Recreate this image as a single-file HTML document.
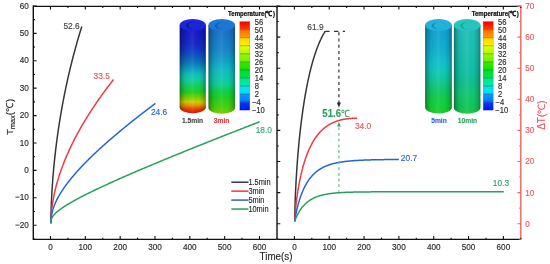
<!DOCTYPE html>
<html><head><meta charset="utf-8"><title>Tmax and Delta T vs Time</title>
<style>html,body{margin:0;padding:0;background:#fff;overflow:hidden;} svg{display:block;filter:blur(0.3px);}</style>
</head><body>
<svg width="550" height="264" viewBox="0 0 550 264" font-family="'Liberation Sans', Arial, sans-serif">
<rect width="550" height="264" fill="#fff"/>
<defs>
<linearGradient id="shade" x1="0" x2="1" y1="0" y2="0">
 <stop offset="0" stop-color="#000" stop-opacity="0.45"/>
 <stop offset="0.08" stop-color="#000" stop-opacity="0.22"/>
 <stop offset="0.22" stop-color="#000" stop-opacity="0.05"/>
 <stop offset="0.5" stop-color="#fff" stop-opacity="0.07"/>
 <stop offset="0.72" stop-color="#000" stop-opacity="0.0"/>
 <stop offset="0.9" stop-color="#000" stop-opacity="0.15"/>
 <stop offset="1" stop-color="#000" stop-opacity="0.35"/>
</linearGradient>
<linearGradient id="capsh" x1="0" x2="1" y1="0" y2="1">
 <stop offset="0" stop-color="#fff" stop-opacity="0.10"/>
 <stop offset="1" stop-color="#000" stop-opacity="0.05"/>
</linearGradient>

<linearGradient id="c1" gradientUnits="userSpaceOnUse" x1="0" x2="0" y1="19" y2="113"><stop offset="0.000" stop-color="#1a22d0"/><stop offset="0.128" stop-color="#1418c8"/><stop offset="0.266" stop-color="#1426c8"/><stop offset="0.340" stop-color="#103cc8"/><stop offset="0.404" stop-color="#0c58c2"/><stop offset="0.468" stop-color="#0a78bc"/><stop offset="0.521" stop-color="#0898c0"/><stop offset="0.585" stop-color="#10bec0"/><stop offset="0.649" stop-color="#10d0a0"/><stop offset="0.713" stop-color="#10d060"/><stop offset="0.777" stop-color="#20d020"/><stop offset="0.840" stop-color="#80d000"/><stop offset="0.883" stop-color="#d0d000"/><stop offset="0.920" stop-color="#e89000"/><stop offset="0.957" stop-color="#e84000"/><stop offset="1.000" stop-color="#d01010"/></linearGradient>
<linearGradient id="c2" gradientUnits="userSpaceOnUse" x1="0" x2="0" y1="19" y2="113"><stop offset="0.000" stop-color="#1a70d0"/><stop offset="0.128" stop-color="#1872c8"/><stop offset="0.330" stop-color="#1886cc"/><stop offset="0.436" stop-color="#10a0c8"/><stop offset="0.543" stop-color="#10bcc4"/><stop offset="0.628" stop-color="#10c8b0"/><stop offset="0.702" stop-color="#10d090"/><stop offset="0.766" stop-color="#10d048"/><stop offset="0.840" stop-color="#20d020"/><stop offset="0.915" stop-color="#40d010"/><stop offset="1.000" stop-color="#70d000"/></linearGradient>
<linearGradient id="c3" gradientUnits="userSpaceOnUse" x1="0" x2="0" y1="19" y2="113"><stop offset="0.000" stop-color="#20a8d8"/><stop offset="0.128" stop-color="#12a2d0"/><stop offset="0.330" stop-color="#10b0d0"/><stop offset="0.457" stop-color="#10c0d0"/><stop offset="0.564" stop-color="#10c8b8"/><stop offset="0.670" stop-color="#10c890"/><stop offset="0.777" stop-color="#10c860"/><stop offset="0.883" stop-color="#10d040"/><stop offset="1.000" stop-color="#18d028"/></linearGradient>
<linearGradient id="c4" gradientUnits="userSpaceOnUse" x1="0" x2="0" y1="19" y2="113"><stop offset="0.000" stop-color="#20c0b8"/><stop offset="0.128" stop-color="#20c0b8"/><stop offset="0.383" stop-color="#18c0b0"/><stop offset="0.543" stop-color="#10c0a8"/><stop offset="0.670" stop-color="#10c090"/><stop offset="0.809" stop-color="#10c870"/><stop offset="0.915" stop-color="#10c858"/><stop offset="1.000" stop-color="#18c848"/></linearGradient>
</defs>
<path d="M179.7,24.9 L179.7,107.3 A13.050000000000011,6.0 0 0 0 205.8,107.3 L205.8,24.9 Z" fill="url(#c1)"/>
<path d="M179.7,24.9 L179.7,107.3 A13.050000000000011,6.0 0 0 0 205.8,107.3 L205.8,24.9 Z" fill="url(#shade)"/>
<ellipse cx="192.75" cy="24.9" rx="13.050000000000011" ry="6.0" fill="#1c26d4"/>
<ellipse cx="193.35" cy="25.80" rx="7.31" ry="3.48" fill="none" stroke="#06067a" stroke-width="0.45" stroke-opacity="0.18"/>
<path d="M193.35,22.32 A7.31,3.48 0 0 0 193.35,29.28 A4.02,2.78 0 0 1 193.35,22.32 Z" fill="#06067a" fill-opacity="0.45"/>
<path d="M208.5,24.9 L208.5,107.7 A13.25,6.0 0 0 0 235.0,107.7 L235.0,24.9 Z" fill="url(#c2)"/>
<path d="M208.5,24.9 L208.5,107.7 A13.25,6.0 0 0 0 235.0,107.7 L235.0,24.9 Z" fill="url(#shade)"/>
<ellipse cx="221.75" cy="24.9" rx="13.25" ry="6.0" fill="#1c78d4"/>
<ellipse cx="222.35" cy="25.80" rx="7.42" ry="3.48" fill="none" stroke="#0a3c80" stroke-width="0.45" stroke-opacity="0.18"/>
<path d="M222.35,22.32 A7.42,3.48 0 0 0 222.35,29.28 A4.08,2.78 0 0 1 222.35,22.32 Z" fill="#0a3c80" fill-opacity="0.45"/>
<path d="M425.2,24.9 L425.2,107.4 A13.300000000000011,6.0 0 0 0 451.8,107.4 L451.8,24.9 Z" fill="url(#c3)"/>
<path d="M425.2,24.9 L425.2,107.4 A13.300000000000011,6.0 0 0 0 451.8,107.4 L451.8,24.9 Z" fill="url(#shade)"/>
<ellipse cx="438.5" cy="24.9" rx="13.300000000000011" ry="6.0" fill="#22b2da"/>
<ellipse cx="439.10" cy="25.80" rx="7.45" ry="3.48" fill="none" stroke="#0a6a88" stroke-width="0.45" stroke-opacity="0.18"/>
<path d="M439.10,22.32 A7.45,3.48 0 0 0 439.10,29.28 A4.10,2.78 0 0 1 439.10,22.32 Z" fill="#0a6a88" fill-opacity="0.45"/>
<path d="M453.9,24.9 L453.9,107.8 A13.25,6.0 0 0 0 480.4,107.8 L480.4,24.9 Z" fill="url(#c4)"/>
<path d="M453.9,24.9 L453.9,107.8 A13.25,6.0 0 0 0 480.4,107.8 L480.4,24.9 Z" fill="url(#shade)"/>
<ellipse cx="467.15" cy="24.9" rx="13.25" ry="6.0" fill="#26c6c0"/>
<ellipse cx="467.75" cy="25.80" rx="7.42" ry="3.48" fill="none" stroke="#0a7a78" stroke-width="0.45" stroke-opacity="0.18"/>
<path d="M467.75,22.32 A7.42,3.48 0 0 0 467.75,29.28 A4.08,2.78 0 0 1 467.75,22.32 Z" fill="#0a7a78" fill-opacity="0.45"/>
<defs><linearGradient id="cbl0" x1="0" x2="0" y1="0" y2="1"><stop offset="0" stop-color="#f00000"/><stop offset="1" stop-color="#ff4000"/></linearGradient><linearGradient id="cbl1" x1="0" x2="0" y1="0" y2="1"><stop offset="0" stop-color="#ff6a00"/><stop offset="1" stop-color="#ffa000"/></linearGradient><linearGradient id="cbl2" x1="0" x2="0" y1="0" y2="1"><stop offset="0" stop-color="#ffd000"/><stop offset="1" stop-color="#fff400"/></linearGradient><linearGradient id="cbl3" x1="0" x2="0" y1="0" y2="1"><stop offset="0" stop-color="#e4ff00"/><stop offset="1" stop-color="#b0f800"/></linearGradient><linearGradient id="cbl4" x1="0" x2="0" y1="0" y2="1"><stop offset="0" stop-color="#98f800"/><stop offset="1" stop-color="#70f000"/></linearGradient><linearGradient id="cbl5" x1="0" x2="0" y1="0" y2="1"><stop offset="0" stop-color="#40e800"/><stop offset="1" stop-color="#10e000"/></linearGradient><linearGradient id="cbl6" x1="0" x2="0" y1="0" y2="1"><stop offset="0" stop-color="#00e020"/><stop offset="1" stop-color="#00e050"/></linearGradient><linearGradient id="cbl7" x1="0" x2="0" y1="0" y2="1"><stop offset="0" stop-color="#00e880"/><stop offset="1" stop-color="#00e8b0"/></linearGradient><linearGradient id="cbl8" x1="0" x2="0" y1="0" y2="1"><stop offset="0" stop-color="#00e8e0"/><stop offset="1" stop-color="#00d8ff"/></linearGradient><linearGradient id="cbl9" x1="0" x2="0" y1="0" y2="1"><stop offset="0" stop-color="#00a0ff"/><stop offset="1" stop-color="#0070ff"/></linearGradient><linearGradient id="cbl10" x1="0" x2="0" y1="0" y2="1"><stop offset="0" stop-color="#0040ff"/><stop offset="1" stop-color="#0010f0"/></linearGradient></defs>
<rect x="239.8" y="21.60" width="10.0" height="8.05" fill="url(#cbl0)"/>
<rect x="239.8" y="29.65" width="10.0" height="8.05" fill="url(#cbl1)"/>
<rect x="239.8" y="37.70" width="10.0" height="8.05" fill="url(#cbl2)"/>
<rect x="239.8" y="45.75" width="10.0" height="8.05" fill="url(#cbl3)"/>
<rect x="239.8" y="53.80" width="10.0" height="8.05" fill="url(#cbl4)"/>
<rect x="239.8" y="61.85" width="10.0" height="8.05" fill="url(#cbl5)"/>
<rect x="239.8" y="69.90" width="10.0" height="8.05" fill="url(#cbl6)"/>
<rect x="239.8" y="77.95" width="10.0" height="8.05" fill="url(#cbl7)"/>
<rect x="239.8" y="86.00" width="10.0" height="8.05" fill="url(#cbl8)"/>
<rect x="239.8" y="94.05" width="10.0" height="8.05" fill="url(#cbl9)"/>
<rect x="239.8" y="102.10" width="10.0" height="8.05" fill="url(#cbl10)"/>
<line x1="239.8" x2="249.8" y1="29.65" y2="29.65" stroke="#303830" stroke-opacity="0.6" stroke-width="0.7"/>
<line x1="239.8" x2="249.8" y1="37.70" y2="37.70" stroke="#303830" stroke-opacity="0.6" stroke-width="0.7"/>
<line x1="239.8" x2="249.8" y1="45.75" y2="45.75" stroke="#303830" stroke-opacity="0.6" stroke-width="0.7"/>
<line x1="239.8" x2="249.8" y1="53.80" y2="53.80" stroke="#303830" stroke-opacity="0.6" stroke-width="0.7"/>
<line x1="239.8" x2="249.8" y1="61.85" y2="61.85" stroke="#303830" stroke-opacity="0.6" stroke-width="0.7"/>
<line x1="239.8" x2="249.8" y1="69.90" y2="69.90" stroke="#303830" stroke-opacity="0.6" stroke-width="0.7"/>
<line x1="239.8" x2="249.8" y1="77.95" y2="77.95" stroke="#303830" stroke-opacity="0.6" stroke-width="0.7"/>
<line x1="239.8" x2="249.8" y1="86.00" y2="86.00" stroke="#303830" stroke-opacity="0.6" stroke-width="0.7"/>
<line x1="239.8" x2="249.8" y1="94.05" y2="94.05" stroke="#303830" stroke-opacity="0.6" stroke-width="0.7"/>
<line x1="239.8" x2="249.8" y1="102.10" y2="102.10" stroke="#303830" stroke-opacity="0.6" stroke-width="0.7"/>
<rect x="239.8" y="21.6" width="10.0" height="88.55" fill="none" stroke="#405080" stroke-opacity="0.5" stroke-width="0.5"/>
<text transform="translate(254.70,24.80) scale(1,1.1)" font-size="7.6" fill="#2a2a2a" stroke="#2a2a2a" stroke-width="0.14">56</text>
<text transform="translate(254.70,32.85) scale(1,1.1)" font-size="7.6" fill="#2a2a2a" stroke="#2a2a2a" stroke-width="0.14">50</text>
<text transform="translate(254.70,40.90) scale(1,1.1)" font-size="7.6" fill="#2a2a2a" stroke="#2a2a2a" stroke-width="0.14">44</text>
<text transform="translate(254.70,48.95) scale(1,1.1)" font-size="7.6" fill="#2a2a2a" stroke="#2a2a2a" stroke-width="0.14">38</text>
<text transform="translate(254.70,57.00) scale(1,1.1)" font-size="7.6" fill="#2a2a2a" stroke="#2a2a2a" stroke-width="0.14">32</text>
<text transform="translate(254.70,65.05) scale(1,1.1)" font-size="7.6" fill="#2a2a2a" stroke="#2a2a2a" stroke-width="0.14">26</text>
<text transform="translate(254.70,73.10) scale(1,1.1)" font-size="7.6" fill="#2a2a2a" stroke="#2a2a2a" stroke-width="0.14">20</text>
<text transform="translate(254.70,81.15) scale(1,1.1)" font-size="7.6" fill="#2a2a2a" stroke="#2a2a2a" stroke-width="0.14">14</text>
<text transform="translate(254.70,89.20) scale(1,1.1)" font-size="7.6" fill="#2a2a2a" stroke="#2a2a2a" stroke-width="0.14">8</text>
<text transform="translate(254.70,97.25) scale(1,1.1)" font-size="7.6" fill="#2a2a2a" stroke="#2a2a2a" stroke-width="0.14">2</text>
<text transform="translate(260.80,105.30) scale(1,1.1)" font-size="7.6" fill="#2a2a2a" text-anchor="end" stroke="#2a2a2a" stroke-width="0.14">−4</text>
<text transform="translate(264.80,113.35) scale(1,1.1)" font-size="7.6" fill="#2a2a2a" text-anchor="end" stroke="#2a2a2a" stroke-width="0.14">−10</text>
<defs><linearGradient id="cbr0" x1="0" x2="0" y1="0" y2="1"><stop offset="0" stop-color="#f00000"/><stop offset="1" stop-color="#ff4000"/></linearGradient><linearGradient id="cbr1" x1="0" x2="0" y1="0" y2="1"><stop offset="0" stop-color="#ff6a00"/><stop offset="1" stop-color="#ffa000"/></linearGradient><linearGradient id="cbr2" x1="0" x2="0" y1="0" y2="1"><stop offset="0" stop-color="#ffd000"/><stop offset="1" stop-color="#fff400"/></linearGradient><linearGradient id="cbr3" x1="0" x2="0" y1="0" y2="1"><stop offset="0" stop-color="#e4ff00"/><stop offset="1" stop-color="#b0f800"/></linearGradient><linearGradient id="cbr4" x1="0" x2="0" y1="0" y2="1"><stop offset="0" stop-color="#98f800"/><stop offset="1" stop-color="#70f000"/></linearGradient><linearGradient id="cbr5" x1="0" x2="0" y1="0" y2="1"><stop offset="0" stop-color="#40e800"/><stop offset="1" stop-color="#10e000"/></linearGradient><linearGradient id="cbr6" x1="0" x2="0" y1="0" y2="1"><stop offset="0" stop-color="#00e020"/><stop offset="1" stop-color="#00e050"/></linearGradient><linearGradient id="cbr7" x1="0" x2="0" y1="0" y2="1"><stop offset="0" stop-color="#00e880"/><stop offset="1" stop-color="#00e8b0"/></linearGradient><linearGradient id="cbr8" x1="0" x2="0" y1="0" y2="1"><stop offset="0" stop-color="#00e8e0"/><stop offset="1" stop-color="#00d8ff"/></linearGradient><linearGradient id="cbr9" x1="0" x2="0" y1="0" y2="1"><stop offset="0" stop-color="#00a0ff"/><stop offset="1" stop-color="#0070ff"/></linearGradient><linearGradient id="cbr10" x1="0" x2="0" y1="0" y2="1"><stop offset="0" stop-color="#0040ff"/><stop offset="1" stop-color="#0010f0"/></linearGradient></defs>
<rect x="483.2" y="21.60" width="10.0" height="8.05" fill="url(#cbr0)"/>
<rect x="483.2" y="29.65" width="10.0" height="8.05" fill="url(#cbr1)"/>
<rect x="483.2" y="37.70" width="10.0" height="8.05" fill="url(#cbr2)"/>
<rect x="483.2" y="45.75" width="10.0" height="8.05" fill="url(#cbr3)"/>
<rect x="483.2" y="53.80" width="10.0" height="8.05" fill="url(#cbr4)"/>
<rect x="483.2" y="61.85" width="10.0" height="8.05" fill="url(#cbr5)"/>
<rect x="483.2" y="69.90" width="10.0" height="8.05" fill="url(#cbr6)"/>
<rect x="483.2" y="77.95" width="10.0" height="8.05" fill="url(#cbr7)"/>
<rect x="483.2" y="86.00" width="10.0" height="8.05" fill="url(#cbr8)"/>
<rect x="483.2" y="94.05" width="10.0" height="8.05" fill="url(#cbr9)"/>
<rect x="483.2" y="102.10" width="10.0" height="8.05" fill="url(#cbr10)"/>
<line x1="483.2" x2="493.2" y1="29.65" y2="29.65" stroke="#303830" stroke-opacity="0.6" stroke-width="0.7"/>
<line x1="483.2" x2="493.2" y1="37.70" y2="37.70" stroke="#303830" stroke-opacity="0.6" stroke-width="0.7"/>
<line x1="483.2" x2="493.2" y1="45.75" y2="45.75" stroke="#303830" stroke-opacity="0.6" stroke-width="0.7"/>
<line x1="483.2" x2="493.2" y1="53.80" y2="53.80" stroke="#303830" stroke-opacity="0.6" stroke-width="0.7"/>
<line x1="483.2" x2="493.2" y1="61.85" y2="61.85" stroke="#303830" stroke-opacity="0.6" stroke-width="0.7"/>
<line x1="483.2" x2="493.2" y1="69.90" y2="69.90" stroke="#303830" stroke-opacity="0.6" stroke-width="0.7"/>
<line x1="483.2" x2="493.2" y1="77.95" y2="77.95" stroke="#303830" stroke-opacity="0.6" stroke-width="0.7"/>
<line x1="483.2" x2="493.2" y1="86.00" y2="86.00" stroke="#303830" stroke-opacity="0.6" stroke-width="0.7"/>
<line x1="483.2" x2="493.2" y1="94.05" y2="94.05" stroke="#303830" stroke-opacity="0.6" stroke-width="0.7"/>
<line x1="483.2" x2="493.2" y1="102.10" y2="102.10" stroke="#303830" stroke-opacity="0.6" stroke-width="0.7"/>
<rect x="483.2" y="21.6" width="10.0" height="88.55" fill="none" stroke="#405080" stroke-opacity="0.5" stroke-width="0.5"/>
<text transform="translate(498.10,24.80) scale(1,1.1)" font-size="7.6" fill="#2a2a2a" stroke="#2a2a2a" stroke-width="0.14">56</text>
<text transform="translate(498.10,32.85) scale(1,1.1)" font-size="7.6" fill="#2a2a2a" stroke="#2a2a2a" stroke-width="0.14">50</text>
<text transform="translate(498.10,40.90) scale(1,1.1)" font-size="7.6" fill="#2a2a2a" stroke="#2a2a2a" stroke-width="0.14">44</text>
<text transform="translate(498.10,48.95) scale(1,1.1)" font-size="7.6" fill="#2a2a2a" stroke="#2a2a2a" stroke-width="0.14">38</text>
<text transform="translate(498.10,57.00) scale(1,1.1)" font-size="7.6" fill="#2a2a2a" stroke="#2a2a2a" stroke-width="0.14">32</text>
<text transform="translate(498.10,65.05) scale(1,1.1)" font-size="7.6" fill="#2a2a2a" stroke="#2a2a2a" stroke-width="0.14">26</text>
<text transform="translate(498.10,73.10) scale(1,1.1)" font-size="7.6" fill="#2a2a2a" stroke="#2a2a2a" stroke-width="0.14">20</text>
<text transform="translate(498.10,81.15) scale(1,1.1)" font-size="7.6" fill="#2a2a2a" stroke="#2a2a2a" stroke-width="0.14">14</text>
<text transform="translate(498.10,89.20) scale(1,1.1)" font-size="7.6" fill="#2a2a2a" stroke="#2a2a2a" stroke-width="0.14">8</text>
<text transform="translate(498.10,97.25) scale(1,1.1)" font-size="7.6" fill="#2a2a2a" stroke="#2a2a2a" stroke-width="0.14">2</text>
<text transform="translate(504.20,105.30) scale(1,1.1)" font-size="7.6" fill="#2a2a2a" text-anchor="end" stroke="#2a2a2a" stroke-width="0.14">−4</text>
<text transform="translate(508.20,113.35) scale(1,1.1)" font-size="7.6" fill="#2a2a2a" text-anchor="end" stroke="#2a2a2a" stroke-width="0.14">−10</text>
<text transform="translate(228.0,16.0) scale(0.925,1.06)" font-size="6.6" font-weight="bold" fill="#111" stroke="#111" stroke-width="0.22">Temperature(℃)</text>
<text transform="translate(471.7,16.0) scale(0.925,1.06)" font-size="6.6" font-weight="bold" fill="#111" stroke="#111" stroke-width="0.22">Temperature(℃)</text>
<text transform="translate(192.6,123.4) scale(1,1.1)" font-size="6.7" font-weight="bold" fill="#484848" text-anchor="middle" stroke="#484848" stroke-width="0.12">1.5min</text>
<text transform="translate(221.6,123.4) scale(1,1.1)" font-size="6.7" font-weight="bold" fill="#ee3440" text-anchor="middle" stroke="#ee3440" stroke-width="0.12">3min</text>
<text transform="translate(439.0,123.4) scale(1,1.1)" font-size="6.7" font-weight="bold" fill="#2a68e0" text-anchor="middle" stroke="#2a68e0" stroke-width="0.12">5min</text>
<text transform="translate(467.5,123.4) scale(1,1.1)" font-size="6.7" font-weight="bold" fill="#2ea060" text-anchor="middle" stroke="#2ea060" stroke-width="0.12">10min</text>
<polyline points="50.90,223.20 50.90,223.09 50.90,222.93 50.90,222.75 50.90,222.55 50.90,222.33 50.90,222.11 50.90,221.87 50.91,221.62 50.91,221.37 50.91,221.11 50.91,220.84 50.91,220.56 50.92,220.28 50.92,219.99 50.92,219.69 50.93,219.39 50.93,219.09 50.93,218.78 50.94,218.46 50.94,218.14 50.95,217.82 50.95,217.49 50.96,217.16 50.96,216.83 50.97,216.49 50.98,216.15 50.98,215.80 50.99,215.46 51.00,215.10 51.00,214.75 51.01,214.39 51.02,214.03 51.03,213.67 51.04,213.30 51.05,212.93 51.06,212.56 51.07,212.19 51.08,211.81 51.09,211.43 51.10,211.05 51.11,210.66 51.12,210.28 51.13,209.89 51.14,209.50 51.15,209.11 51.17,208.71 51.18,208.31 51.19,207.91 51.21,207.51 51.22,207.11 51.23,206.70 51.25,206.30 51.26,205.89 51.28,205.48 51.30,205.06 51.31,204.65 51.33,204.23 51.34,203.82 51.36,203.40 51.38,202.98 51.40,202.55 51.41,202.13 51.43,201.70 51.45,201.27 51.47,200.85 51.49,200.42 51.51,199.98 51.53,199.55 51.55,199.11 51.57,198.68 51.59,198.24 51.61,197.80 51.64,197.36 51.66,196.92 51.68,196.48 51.70,196.03 51.73,195.59 51.75,195.14 51.78,194.69 51.80,194.24 51.83,193.79 51.85,193.34 51.88,192.89 51.90,192.43 51.93,191.98 51.96,191.52 51.98,191.06 52.01,190.60 52.04,190.14 52.07,189.68 52.10,189.22 52.13,188.76 52.15,188.29 52.18,187.83 52.21,187.36 52.25,186.89 52.28,186.43 52.31,185.96 52.34,185.49 52.37,185.02 52.40,184.54 52.44,184.07 52.47,183.60 52.50,183.12 52.54,182.65 52.57,182.17 52.61,181.69 52.64,181.21 52.68,180.73 52.72,180.25 52.75,179.77 52.79,179.29 52.83,178.81 52.86,178.33 52.90,177.84 52.94,177.36 52.98,176.87 53.02,176.38 53.06,175.90 53.10,175.41 53.14,174.92 53.18,174.43 53.22,173.94 53.26,173.45 53.30,172.96 53.35,172.46 53.39,171.97 53.43,171.48 53.48,170.98 53.52,170.49 53.57,169.99 53.61,169.49 53.66,169.00 53.70,168.50 53.75,168.00 53.79,167.50 53.84,167.00 53.89,166.50 53.94,166.00 53.99,165.50 54.03,165.00 54.08,164.49 54.13,163.99 54.18,163.48 54.23,162.98 54.28,162.47 54.33,161.97 54.39,161.46 54.44,160.96 54.49,160.45 54.54,159.94 54.60,159.43 54.65,158.92 54.71,158.41 54.76,157.90 54.81,157.39 54.87,156.88 54.93,156.37 54.98,155.86 55.04,155.34 55.10,154.83 55.15,154.32 55.21,153.80 55.27,153.29 55.33,152.77 55.39,152.26 55.45,151.74 55.51,151.22 55.57,150.71 55.63,150.19 55.69,149.67 55.75,149.15 55.81,148.64 55.88,148.12 55.94,147.60 56.00,147.08 56.07,146.56 56.13,146.04 56.20,145.51 56.26,144.99 56.33,144.47 56.40,143.95 56.46,143.43 56.53,142.90 56.60,142.38 56.66,141.86 56.73,141.33 56.80,140.81 56.87,140.28 56.94,139.76 57.01,139.23 57.08,138.70 57.15,138.18 57.22,137.65 57.30,137.12 57.37,136.60 57.44,136.07 57.51,135.54 57.59,135.01 57.66,134.48 57.74,133.95 57.81,133.43 57.89,132.90 57.96,132.37 58.04,131.84 58.12,131.30 58.19,130.77 58.27,130.24 58.35,129.71 58.43,129.18 58.51,128.65 58.59,128.12 58.67,127.58 58.75,127.05 58.83,126.52 58.91,125.98 58.99,125.45 59.07,124.92 59.16,124.38 59.24,123.85 59.32,123.31 59.41,122.78 59.49,122.24 59.58,121.71 59.66,121.17 59.75,120.64 59.83,120.10 59.92,119.56 60.01,119.03 60.10,118.49 60.18,117.95 60.27,117.42 60.36,116.88 60.45,116.34 60.54,115.80 60.63,115.27 60.72,114.73 60.81,114.19 60.91,113.65 61.00,113.11 61.09,112.57 61.19,112.03 61.28,111.50 61.37,110.96 61.47,110.42 61.56,109.88 61.66,109.34 61.75,108.80 61.85,108.26 61.95,107.72 62.05,107.17 62.14,106.63 62.24,106.09 62.34,105.55 62.44,105.01 62.54,104.47 62.64,103.93 62.74,103.39 62.84,102.84 62.94,102.30 63.05,101.76 63.15,101.22 63.25,100.67 63.36,100.13 63.46,99.59 63.56,99.05 63.67,98.50 63.77,97.96 63.88,97.42 63.99,96.87 64.09,96.33 64.20,95.79 64.31,95.24 64.42,94.70 64.53,94.16 64.63,93.61 64.74,93.07 64.85,92.52 64.97,91.98 65.08,91.44 65.19,90.89 65.30,90.35 65.41,89.80 65.53,89.26 65.64,88.71 65.75,88.17 65.87,87.62 65.98,87.08 66.10,86.53 66.21,85.99 66.33,85.44 66.45,84.90 66.56,84.35 66.68,83.81 66.80,83.26 66.92,82.72 67.04,82.17 67.16,81.63 67.28,81.08 67.40,80.53 67.52,79.99 67.64,79.44 67.77,78.90 67.89,78.35 68.01,77.80 68.13,77.26 68.26,76.71 68.38,76.17 68.51,75.62 68.63,75.07 68.76,74.53 68.89,73.98 69.01,73.44 69.14,72.89 69.27,72.34 69.40,71.80 69.53,71.25 69.66,70.70 69.79,70.16 69.92,69.61 70.05,69.07 70.18,68.52 70.31,67.97 70.44,67.43 70.58,66.88 70.71,66.33 70.84,65.79 70.98,65.24 71.11,64.69 71.25,64.15 71.39,63.60 71.52,63.05 71.66,62.51 71.80,61.96 71.93,61.42 72.07,60.87 72.21,60.32 72.35,59.78 72.49,59.23 72.63,58.68 72.77,58.14 72.91,57.59 73.05,57.05 73.20,56.50 73.34,55.95 73.48,55.41 73.63,54.86 73.77,54.31 73.92,53.77 74.06,53.22 74.21,52.68 74.35,52.13 74.50,51.58 74.65,51.04 74.80,50.49 74.94,49.95 75.09,49.40 75.24,48.86 75.39,48.31 75.54,47.76 75.69,47.22 75.84,46.67 76.00,46.13 76.15,45.58 76.30,45.04 76.46,44.49 76.61,43.95 76.76,43.40 76.92,42.86 77.07,42.31 77.23,41.77 77.39,41.22 77.54,40.68 77.70,40.13 77.86,39.59 78.02,39.04 78.18,38.50 78.33,37.96 78.49,37.41 78.66,36.87 78.82,36.32 78.98,35.78 79.14,35.23 79.30,34.69 79.46,34.15 79.63,33.60 79.79,33.06 79.96,32.52 80.12,31.97 80.29,31.43 80.45,30.89 80.62,30.34 80.79,29.80 80.95,29.26 81.12,28.71 81.29,28.17 81.46,27.63 81.63,27.08 81.80,26.54" fill="none" stroke="#363636" stroke-width="1.5" stroke-linejoin="round" stroke-linecap="butt" />
<polyline points="50.90,223.20 50.90,223.08 50.90,222.92 50.90,222.75 50.90,222.57 50.90,222.38 50.91,222.19 50.91,221.99 50.91,221.79 50.91,221.58 50.92,221.37 50.92,221.15 50.93,220.93 50.93,220.71 50.94,220.48 50.95,220.25 50.95,220.02 50.96,219.79 50.97,219.55 50.98,219.31 50.99,219.07 51.00,218.83 51.01,218.58 51.02,218.33 51.03,218.09 51.04,217.84 51.05,217.58 51.07,217.33 51.08,217.07 51.10,216.82 51.11,216.56 51.13,216.30 51.14,216.03 51.16,215.77 51.18,215.51 51.20,215.24 51.22,214.97 51.24,214.70 51.26,214.43 51.28,214.16 51.30,213.89 51.32,213.62 51.34,213.34 51.37,213.06 51.39,212.79 51.42,212.51 51.44,212.23 51.47,211.95 51.49,211.67 51.52,211.38 51.55,211.10 51.58,210.81 51.61,210.53 51.64,210.24 51.67,209.95 51.70,209.66 51.73,209.37 51.77,209.08 51.80,208.79 51.84,208.50 51.87,208.21 51.91,207.91 51.94,207.62 51.98,207.32 52.02,207.02 52.06,206.72 52.10,206.43 52.14,206.13 52.18,205.83 52.22,205.52 52.26,205.22 52.31,204.92 52.35,204.61 52.39,204.31 52.44,204.01 52.49,203.70 52.53,203.39 52.58,203.08 52.63,202.78 52.68,202.47 52.73,202.16 52.78,201.85 52.83,201.53 52.88,201.22 52.93,200.91 52.99,200.60 53.04,200.28 53.10,199.97 53.15,199.65 53.21,199.34 53.27,199.02 53.33,198.70 53.39,198.38 53.45,198.06 53.51,197.74 53.57,197.42 53.63,197.10 53.69,196.78 53.76,196.46 53.82,196.14 53.89,195.81 53.95,195.49 54.02,195.16 54.09,194.84 54.16,194.51 54.22,194.19 54.29,193.86 54.37,193.53 54.44,193.20 54.51,192.87 54.58,192.54 54.66,192.21 54.73,191.88 54.81,191.55 54.88,191.22 54.96,190.89 55.04,190.55 55.12,190.22 55.20,189.89 55.28,189.55 55.36,189.22 55.44,188.88 55.53,188.54 55.61,188.21 55.69,187.87 55.78,187.53 55.87,187.19 55.95,186.85 56.04,186.51 56.13,186.17 56.22,185.83 56.31,185.49 56.40,185.15 56.49,184.81 56.59,184.46 56.68,184.12 56.77,183.78 56.87,183.43 56.97,183.09 57.06,182.74 57.16,182.40 57.26,182.05 57.36,181.70 57.46,181.36 57.56,181.01 57.66,180.66 57.77,180.31 57.87,179.96 57.97,179.61 58.08,179.26 58.19,178.91 58.29,178.56 58.40,178.21 58.51,177.85 58.62,177.50 58.73,177.15 58.84,176.79 58.96,176.44 59.07,176.09 59.18,175.73 59.30,175.37 59.41,175.02 59.53,174.66 59.65,174.30 59.77,173.95 59.89,173.59 60.01,173.23 60.13,172.87 60.25,172.51 60.37,172.15 60.50,171.79 60.62,171.43 60.75,171.07 60.87,170.71 61.00,170.35 61.13,169.98 61.26,169.62 61.39,169.26 61.52,168.89 61.65,168.53 61.78,168.17 61.92,167.80 62.05,167.44 62.19,167.07 62.32,166.70 62.46,166.34 62.60,165.97 62.74,165.60 62.87,165.23 63.02,164.87 63.16,164.50 63.30,164.13 63.44,163.76 63.59,163.39 63.73,163.02 63.88,162.65 64.02,162.27 64.17,161.90 64.32,161.53 64.47,161.16 64.62,160.78 64.77,160.41 64.92,160.04 65.08,159.66 65.23,159.29 65.39,158.91 65.54,158.54 65.70,158.16 65.86,157.78 66.02,157.41 66.18,157.03 66.34,156.65 66.50,156.28 66.66,155.90 66.82,155.52 66.99,155.14 67.15,154.76 67.32,154.38 67.49,154.00 67.65,153.62 67.82,153.24 67.99,152.86 68.16,152.48 68.33,152.09 68.51,151.71 68.68,151.33 68.85,150.94 69.03,150.56 69.21,150.18 69.38,149.79 69.56,149.41 69.74,149.02 69.92,148.64 70.10,148.25 70.28,147.86 70.46,147.48 70.65,147.09 70.83,146.70 71.02,146.31 71.20,145.93 71.39,145.54 71.58,145.15 71.77,144.76 71.96,144.37 72.15,143.98 72.34,143.59 72.54,143.20 72.73,142.81 72.93,142.42 73.12,142.02 73.32,141.63 73.52,141.24 73.71,140.85 73.91,140.45 74.11,140.06 74.32,139.66 74.52,139.27 74.72,138.87 74.93,138.48 75.13,138.08 75.34,137.69 75.55,137.29 75.75,136.90 75.96,136.50 76.17,136.10 76.38,135.70 76.60,135.31 76.81,134.91 77.02,134.51 77.24,134.11 77.45,133.71 77.67,133.31 77.89,132.91 78.11,132.51 78.33,132.11 78.55,131.71 78.77,131.31 78.99,130.90 79.22,130.50 79.44,130.10 79.67,129.70 79.89,129.29 80.12,128.89 80.35,128.49 80.58,128.08 80.81,127.68 81.04,127.27 81.27,126.87 81.50,126.46 81.74,126.05 81.97,125.65 82.21,125.24 82.45,124.83 82.69,124.43 82.93,124.02 83.17,123.61 83.41,123.20 83.65,122.80 83.89,122.39 84.14,121.98 84.38,121.57 84.63,121.16 84.87,120.75 85.12,120.34 85.37,119.93 85.62,119.51 85.87,119.10 86.12,118.69 86.38,118.28 86.63,117.87 86.89,117.45 87.14,117.04 87.40,116.63 87.66,116.21 87.91,115.80 88.17,115.38 88.44,114.97 88.70,114.55 88.96,114.14 89.22,113.72 89.49,113.31 89.75,112.89 90.02,112.47 90.29,112.05 90.56,111.64 90.83,111.22 91.10,110.80 91.37,110.38 91.64,109.96 91.92,109.54 92.19,109.13 92.47,108.71 92.74,108.29 93.02,107.87 93.30,107.44 93.58,107.02 93.86,106.60 94.14,106.18 94.43,105.76 94.71,105.34 94.99,104.91 95.28,104.49 95.57,104.07 95.85,103.64 96.14,103.22 96.43,102.80 96.72,102.37 97.02,101.95 97.31,101.52 97.60,101.10 97.90,100.67 98.19,100.25 98.49,99.82 98.79,99.39 99.09,98.97 99.39,98.54 99.69,98.11 99.99,97.68 100.29,97.25 100.60,96.83 100.90,96.40 101.21,95.97 101.52,95.54 101.82,95.11 102.13,94.68 102.44,94.25 102.75,93.82 103.07,93.39 103.38,92.96 103.69,92.52 104.01,92.09 104.33,91.66 104.64,91.23 104.96,90.80 105.28,90.36 105.60,89.93 105.92,89.50 106.24,89.06 106.57,88.63 106.89,88.19 107.22,87.76 107.55,87.32 107.87,86.89 108.20,86.45 108.53,86.02 108.86,85.58 109.19,85.14 109.53,84.71 109.86,84.27 110.19,83.83 110.53,83.39 110.87,82.95 111.21,82.52 111.54,82.08 111.88,81.64 112.23,81.20 112.57,80.76 112.91,80.32 113.25,79.88 113.60,79.44" fill="none" stroke="#ea3a44" stroke-width="1.5" stroke-linejoin="round" stroke-linecap="butt" />
<polyline points="50.90,223.20 50.90,222.99 50.90,222.79 50.90,222.58 50.90,222.38 50.91,222.18 50.91,221.98 50.91,221.78 50.92,221.58 50.92,221.38 50.93,221.18 50.94,220.98 50.95,220.78 50.96,220.58 50.97,220.38 50.98,220.17 50.99,219.97 51.00,219.77 51.01,219.57 51.03,219.37 51.04,219.17 51.06,218.97 51.08,218.76 51.10,218.56 51.12,218.36 51.14,218.16 51.16,217.95 51.18,217.75 51.20,217.55 51.23,217.34 51.25,217.14 51.28,216.93 51.31,216.73 51.33,216.52 51.36,216.32 51.39,216.11 51.43,215.90 51.46,215.70 51.49,215.49 51.53,215.28 51.56,215.08 51.60,214.87 51.64,214.66 51.68,214.45 51.72,214.24 51.76,214.03 51.80,213.82 51.85,213.61 51.89,213.40 51.94,213.19 51.98,212.97 52.03,212.76 52.08,212.55 52.13,212.34 52.18,212.12 52.24,211.91 52.29,211.69 52.35,211.48 52.40,211.26 52.46,211.05 52.52,210.83 52.58,210.61 52.64,210.40 52.70,210.18 52.76,209.96 52.83,209.74 52.90,209.52 52.96,209.30 53.03,209.08 53.10,208.86 53.17,208.64 53.24,208.42 53.32,208.20 53.39,207.98 53.47,207.75 53.54,207.53 53.62,207.31 53.70,207.08 53.78,206.86 53.86,206.63 53.95,206.41 54.03,206.18 54.12,205.95 54.20,205.73 54.29,205.50 54.38,205.27 54.47,205.04 54.56,204.81 54.66,204.58 54.75,204.35 54.85,204.12 54.94,203.89 55.04,203.66 55.14,203.43 55.24,203.19 55.35,202.96 55.45,202.73 55.55,202.49 55.66,202.26 55.77,202.02 55.88,201.79 55.99,201.55 56.10,201.31 56.21,201.08 56.33,200.84 56.44,200.60 56.56,200.36 56.68,200.12 56.80,199.88 56.92,199.64 57.04,199.40 57.16,199.16 57.29,198.91 57.41,198.67 57.54,198.43 57.67,198.18 57.80,197.94 57.93,197.69 58.06,197.45 58.20,197.20 58.33,196.95 58.47,196.71 58.61,196.46 58.75,196.21 58.89,195.96 59.03,195.71 59.18,195.46 59.32,195.21 59.47,194.96 59.62,194.71 59.76,194.46 59.92,194.20 60.07,193.95 60.22,193.69 60.38,193.44 60.53,193.18 60.69,192.93 60.85,192.67 61.01,192.42 61.17,192.16 61.33,191.90 61.50,191.64 61.66,191.38 61.83,191.12 62.00,190.86 62.17,190.60 62.34,190.34 62.52,190.08 62.69,189.81 62.87,189.55 63.04,189.29 63.22,189.02 63.40,188.76 63.59,188.49 63.77,188.22 63.95,187.96 64.14,187.69 64.33,187.42 64.52,187.15 64.71,186.88 64.90,186.61 65.09,186.34 65.28,186.07 65.48,185.80 65.68,185.53 65.88,185.26 66.08,184.98 66.28,184.71 66.48,184.43 66.69,184.16 66.89,183.88 67.10,183.61 67.31,183.33 67.52,183.05 67.73,182.77 67.95,182.49 68.16,182.21 68.38,181.93 68.60,181.65 68.82,181.37 69.04,181.09 69.26,180.81 69.48,180.52 69.71,180.24 69.94,179.96 70.16,179.67 70.39,179.39 70.63,179.10 70.86,178.81 71.09,178.52 71.33,178.24 71.57,177.95 71.80,177.66 72.04,177.37 72.29,177.08 72.53,176.79 72.77,176.49 73.02,176.20 73.27,175.91 73.52,175.61 73.77,175.32 74.02,175.03 74.27,174.73 74.53,174.43 74.79,174.14 75.05,173.84 75.31,173.54 75.57,173.24 75.83,172.94 76.09,172.64 76.36,172.34 76.63,172.04 76.90,171.74 77.17,171.44 77.44,171.13 77.71,170.83 77.99,170.52 78.26,170.22 78.54,169.91 78.82,169.61 79.10,169.30 79.39,168.99 79.67,168.68 79.96,168.37 80.24,168.06 80.53,167.75 80.82,167.44 81.12,167.13 81.41,166.82 81.70,166.51 82.00,166.19 82.30,165.88 82.60,165.56 82.90,165.25 83.20,164.93 83.51,164.61 83.81,164.30 84.12,163.98 84.43,163.66 84.74,163.34 85.05,163.02 85.37,162.70 85.68,162.38 86.00,162.06 86.32,161.73 86.64,161.41 86.96,161.09 87.28,160.76 87.61,160.44 87.94,160.11 88.26,159.78 88.59,159.46 88.92,159.13 89.26,158.80 89.59,158.47 89.93,158.14 90.26,157.81 90.60,157.48 90.94,157.15 91.29,156.81 91.63,156.48 91.98,156.15 92.32,155.81 92.67,155.47 93.02,155.14 93.37,154.80 93.73,154.46 94.08,154.13 94.44,153.79 94.80,153.45 95.16,153.11 95.52,152.77 95.88,152.43 96.25,152.08 96.61,151.74 96.98,151.40 97.35,151.05 97.72,150.71 98.09,150.36 98.47,150.02 98.84,149.67 99.22,149.32 99.60,148.97 99.98,148.63 100.36,148.28 100.75,147.93 101.13,147.58 101.52,147.22 101.91,146.87 102.30,146.52 102.69,146.16 103.08,145.81 103.48,145.46 103.88,145.10 104.28,144.74 104.68,144.39 105.08,144.03 105.48,143.67 105.89,143.31 106.29,142.95 106.70,142.59 107.11,142.23 107.52,141.87 107.94,141.50 108.35,141.14 108.77,140.78 109.19,140.41 109.61,140.05 110.03,139.68 110.45,139.31 110.88,138.95 111.30,138.58 111.73,138.21 112.16,137.84 112.59,137.47 113.02,137.10 113.46,136.73 113.90,136.36 114.33,135.98 114.77,135.61 115.21,135.23 115.66,134.86 116.10,134.48 116.55,134.11 117.00,133.73 117.45,133.35 117.90,132.97 118.35,132.59 118.80,132.21 119.26,131.83 119.72,131.45 120.18,131.07 120.64,130.69 121.10,130.30 121.57,129.92 122.03,129.53 122.50,129.15 122.97,128.76 123.44,128.37 123.92,127.99 124.39,127.60 124.87,127.21 125.34,126.82 125.82,126.43 126.31,126.04 126.79,125.65 127.27,125.25 127.76,124.86 128.25,124.47 128.74,124.07 129.23,123.67 129.72,123.28 130.22,122.88 130.71,122.48 131.21,122.09 131.71,121.69 132.21,121.29 132.72,120.89 133.22,120.48 133.73,120.08 134.24,119.68 134.75,119.28 135.26,118.87 135.77,118.47 136.29,118.06 136.81,117.65 137.32,117.25 137.84,116.84 138.37,116.43 138.89,116.02 139.42,115.61 139.94,115.20 140.47,114.79 141.00,114.38 141.53,113.97 142.07,113.55 142.60,113.14 143.14,112.72 143.68,112.31 144.22,111.89 144.76,111.47 145.31,111.06 145.85,110.64 146.40,110.22 146.95,109.80 147.50,109.38 148.06,108.95 148.61,108.53 149.17,108.11 149.72,107.69 150.28,107.26 150.85,106.84 151.41,106.41 151.97,105.98 152.54,105.56 153.11,105.13 153.68,104.70 154.25,104.27 154.82,103.84 155.40,103.41" fill="none" stroke="#2564d8" stroke-width="1.5" stroke-linejoin="round" stroke-linecap="butt" />
<polyline points="50.90,223.20 50.90,222.87 50.90,222.65 50.90,222.45 50.91,222.26 50.91,222.08 50.92,221.91 50.93,221.75 50.94,221.59 50.95,221.44 50.96,221.29 50.98,221.14 50.99,221.00 51.01,220.85 51.03,220.71 51.05,220.57 51.08,220.44 51.10,220.30 51.13,220.16 51.16,220.03 51.19,219.90 51.22,219.76 51.26,219.63 51.29,219.50 51.33,219.37 51.37,219.24 51.41,219.11 51.46,218.98 51.50,218.85 51.55,218.72 51.60,218.59 51.66,218.46 51.71,218.33 51.77,218.21 51.83,218.08 51.89,217.95 51.95,217.82 52.02,217.69 52.08,217.57 52.15,217.44 52.22,217.31 52.30,217.18 52.37,217.05 52.45,216.92 52.53,216.79 52.62,216.67 52.70,216.54 52.79,216.41 52.88,216.28 52.97,216.15 53.06,216.02 53.16,215.88 53.26,215.75 53.36,215.62 53.46,215.49 53.57,215.36 53.68,215.23 53.79,215.09 53.90,214.96 54.01,214.83 54.13,214.69 54.25,214.56 54.37,214.42 54.50,214.29 54.62,214.15 54.75,214.02 54.88,213.88 55.02,213.74 55.16,213.60 55.29,213.47 55.44,213.33 55.58,213.19 55.73,213.05 55.87,212.91 56.02,212.77 56.18,212.63 56.33,212.49 56.49,212.34 56.65,212.20 56.82,212.06 56.98,211.91 57.15,211.77 57.32,211.62 57.50,211.48 57.67,211.33 57.85,211.18 58.03,211.04 58.22,210.89 58.40,210.74 58.59,210.59 58.78,210.44 58.98,210.29 59.17,210.14 59.37,209.98 59.57,209.83 59.78,209.68 59.99,209.52 60.20,209.37 60.41,209.22 60.62,209.06 60.84,208.90 61.06,208.75 61.28,208.59 61.51,208.43 61.74,208.27 61.97,208.11 62.20,207.95 62.44,207.79 62.67,207.62 62.91,207.46 63.16,207.30 63.41,207.13 63.65,206.97 63.91,206.80 64.16,206.64 64.42,206.47 64.68,206.30 64.94,206.13 65.21,205.96 65.47,205.79 65.75,205.62 66.02,205.45 66.29,205.28 66.57,205.10 66.86,204.93 67.14,204.76 67.43,204.58 67.72,204.40 68.01,204.23 68.31,204.05 68.60,203.87 68.90,203.69 69.21,203.51 69.51,203.33 69.82,203.15 70.14,202.96 70.45,202.78 70.77,202.60 71.09,202.41 71.41,202.23 71.74,202.04 72.07,201.85 72.40,201.66 72.73,201.48 73.07,201.29 73.41,201.09 73.75,200.90 74.10,200.71 74.45,200.52 74.80,200.32 75.15,200.13 75.51,199.93 75.87,199.74 76.23,199.54 76.60,199.34 76.97,199.14 77.34,198.94 77.71,198.74 78.09,198.54 78.47,198.34 78.85,198.13 79.24,197.93 79.63,197.73 80.02,197.52 80.41,197.31 80.81,197.11 81.21,196.90 81.62,196.69 82.02,196.48 82.43,196.27 82.84,196.06 83.26,195.84 83.68,195.63 84.10,195.41 84.52,195.20 84.95,194.98 85.38,194.77 85.81,194.55 86.24,194.33 86.68,194.11 87.12,193.89 87.57,193.67 88.01,193.45 88.46,193.22 88.92,193.00 89.37,192.77 89.83,192.55 90.29,192.32 90.76,192.09 91.23,191.86 91.70,191.63 92.17,191.40 92.65,191.17 93.13,190.94 93.61,190.71 94.10,190.47 94.59,190.24 95.08,190.00 95.57,189.76 96.07,189.53 96.57,189.29 97.08,189.05 97.58,188.81 98.09,188.56 98.61,188.32 99.12,188.08 99.64,187.83 100.16,187.59 100.69,187.34 101.22,187.10 101.75,186.85 102.28,186.60 102.82,186.35 103.36,186.10 103.90,185.85 104.45,185.59 105.00,185.34 105.55,185.08 106.11,184.83 106.66,184.57 107.23,184.31 107.79,184.06 108.36,183.80 108.93,183.54 109.50,183.27 110.08,183.01 110.66,182.75 111.24,182.48 111.83,182.22 112.42,181.95 113.01,181.69 113.61,181.42 114.21,181.15 114.81,180.88 115.41,180.61 116.02,180.34 116.63,180.06 117.25,179.79 117.87,179.51 118.49,179.24 119.11,178.96 119.74,178.68 120.37,178.40 121.00,178.12 121.64,177.84 122.28,177.56 122.92,177.28 123.56,177.00 124.21,176.71 124.86,176.43 125.52,176.14 126.18,175.85 126.84,175.56 127.50,175.27 128.17,174.98 128.84,174.69 129.52,174.40 130.19,174.10 130.87,173.81 131.56,173.51 132.24,173.22 132.93,172.92 133.63,172.62 134.32,172.32 135.02,172.02 135.72,171.72 136.43,171.42 137.14,171.11 137.85,170.81 138.57,170.50 139.29,170.19 140.01,169.89 140.73,169.58 141.46,169.27 142.19,168.96 142.93,168.65 143.66,168.33 144.41,168.02 145.15,167.70 145.90,167.39 146.65,167.07 147.40,166.75 148.16,166.43 148.92,166.11 149.68,165.79 150.45,165.47 151.22,165.15 151.99,164.82 152.77,164.50 153.55,164.17 154.33,163.85 155.12,163.52 155.91,163.19 156.70,162.86 157.50,162.53 158.30,162.19 159.10,161.86 159.90,161.53 160.71,161.19 161.53,160.85 162.34,160.52 163.16,160.18 163.98,159.84 164.81,159.50 165.64,159.16 166.47,158.81 167.30,158.47 168.14,158.12 168.98,157.78 169.83,157.43 170.68,157.08 171.53,156.73 172.38,156.38 173.24,156.03 174.10,155.68 174.97,155.33 175.84,154.97 176.71,154.62 177.58,154.26 178.46,153.90 179.34,153.54 180.23,153.19 181.12,152.82 182.01,152.46 182.90,152.10 183.80,151.74 184.70,151.37 185.61,151.00 186.51,150.64 187.43,150.27 188.34,149.90 189.26,149.53 190.18,149.16 191.10,148.79 192.03,148.41 192.96,148.04 193.90,147.66 194.84,147.29 195.78,146.91 196.72,146.53 197.67,146.15 198.62,145.77 199.58,145.39 200.53,145.00 201.50,144.62 202.46,144.23 203.43,143.85 204.40,143.46 205.37,143.07 206.35,142.68 207.33,142.29 208.32,141.90 209.31,141.50 210.30,141.11 211.29,140.72 212.29,140.32 213.29,139.92 214.30,139.52 215.31,139.12 216.32,138.72 217.34,138.32 218.35,137.92 219.38,137.52 220.40,137.11 221.43,136.70 222.46,136.30 223.50,135.89 224.54,135.48 225.58,135.07 226.63,134.66 227.68,134.24 228.73,133.83 229.79,133.42 230.85,133.00 231.91,132.58 232.98,132.16 234.05,131.75 235.12,131.33 236.20,130.90 237.28,130.48 238.36,130.06 239.45,129.63 240.54,129.21 241.63,128.78 242.73,128.35 243.83,127.92 244.93,127.49 246.04,127.06 247.15,126.63 248.27,126.19 249.38,125.76 250.50,125.32 251.63,124.89 252.76,124.45 253.89,124.01 255.02,123.57 256.16,123.13 257.31,122.68 258.45,122.24 259.60,121.80" fill="none" stroke="#26a05c" stroke-width="1.5" stroke-linejoin="round" stroke-linecap="butt" />
<polyline points="294.70,221.30 294.70,221.26 294.70,221.19 294.70,221.09 294.70,220.97 294.70,220.84 294.70,220.69 294.70,220.52 294.71,220.34 294.71,220.15 294.71,219.94 294.71,219.73 294.71,219.50 294.72,219.27 294.72,219.02 294.72,218.77 294.73,218.50 294.73,218.23 294.73,217.95 294.74,217.66 294.74,217.37 294.75,217.07 294.75,216.76 294.76,216.44 294.76,216.12 294.77,215.79 294.78,215.45 294.78,215.11 294.79,214.76 294.80,214.40 294.80,214.04 294.81,213.68 294.82,213.31 294.83,212.93 294.84,212.55 294.84,212.16 294.85,211.77 294.86,211.38 294.87,210.98 294.88,210.57 294.89,210.16 294.90,209.75 294.92,209.33 294.93,208.91 294.94,208.48 294.95,208.05 294.96,207.61 294.98,207.18 294.99,206.73 295.00,206.29 295.02,205.84 295.03,205.38 295.04,204.93 295.06,204.47 295.07,204.00 295.09,203.54 295.11,203.07 295.12,202.59 295.14,202.12 295.16,201.64 295.17,201.16 295.19,200.67 295.21,200.18 295.23,199.69 295.24,199.20 295.26,198.70 295.28,198.21 295.30,197.70 295.32,197.20 295.34,196.69 295.36,196.19 295.38,195.67 295.41,195.16 295.43,194.65 295.45,194.13 295.47,193.61 295.49,193.08 295.52,192.56 295.54,192.03 295.56,191.50 295.59,190.97 295.61,190.44 295.64,189.91 295.66,189.37 295.69,188.83 295.72,188.29 295.74,187.75 295.77,187.21 295.80,186.66 295.82,186.11 295.85,185.57 295.88,185.02 295.91,184.46 295.94,183.91 295.97,183.36 296.00,182.80 296.03,182.24 296.06,181.68 296.09,181.12 296.12,180.56 296.15,180.00 296.18,179.43 296.22,178.87 296.25,178.30 296.28,177.73 296.32,177.16 296.35,176.59 296.39,176.02 296.42,175.45 296.46,174.87 296.49,174.30 296.53,173.72 296.56,173.15 296.60,172.57 296.64,171.99 296.68,171.41 296.71,170.83 296.75,170.25 296.79,169.67 296.83,169.09 296.87,168.50 296.91,167.92 296.95,167.33 296.99,166.75 297.03,166.16 297.07,165.58 297.12,164.99 297.16,164.40 297.20,163.81 297.24,163.22 297.29,162.63 297.33,162.04 297.38,161.45 297.42,160.86 297.47,160.27 297.51,159.68 297.56,159.08 297.60,158.49 297.65,157.90 297.70,157.30 297.75,156.71 297.79,156.11 297.84,155.52 297.89,154.92 297.94,154.33 297.99,153.73 298.04,153.14 298.09,152.54 298.14,151.95 298.19,151.35 298.24,150.75 298.30,150.16 298.35,149.56 298.40,148.96 298.46,148.37 298.51,147.77 298.56,147.17 298.62,146.58 298.67,145.98 298.73,145.38 298.79,144.79 298.84,144.19 298.90,143.59 298.96,143.00 299.01,142.40 299.07,141.80 299.13,141.21 299.19,140.61 299.25,140.02 299.31,139.42 299.37,138.82 299.43,138.23 299.49,137.63 299.55,137.04 299.61,136.44 299.68,135.85 299.74,135.26 299.80,134.66 299.87,134.07 299.93,133.48 299.99,132.88 300.06,132.29 300.12,131.70 300.19,131.11 300.26,130.52 300.32,129.93 300.39,129.34 300.46,128.75 300.53,128.16 300.59,127.57 300.66,126.98 300.73,126.39 300.80,125.80 300.87,125.22 300.94,124.63 301.01,124.04 301.08,123.46 301.16,122.87 301.23,122.29 301.30,121.71 301.37,121.12 301.45,120.54 301.52,119.96 301.60,119.38 301.67,118.80 301.75,118.22 301.82,117.64 301.90,117.06 301.98,116.49 302.05,115.91 302.13,115.33 302.21,114.76 302.29,114.18 302.37,113.61 302.45,113.04 302.53,112.47 302.61,111.90 302.69,111.33 302.77,110.76 302.85,110.19 302.93,109.62 303.01,109.05 303.10,108.49 303.18,107.92 303.26,107.36 303.35,106.80 303.43,106.23 303.52,105.67 303.60,105.11 303.69,104.55 303.78,103.99 303.86,103.44 303.95,102.88 304.04,102.33 304.13,101.77 304.22,101.22 304.31,100.67 304.40,100.11 304.49,99.56 304.58,99.02 304.67,98.47 304.76,97.92 304.85,97.37 304.94,96.83 305.04,96.29 305.13,95.74 305.22,95.20 305.32,94.66 305.41,94.12 305.51,93.59 305.61,93.05 305.70,92.51 305.80,91.98 305.90,91.45 305.99,90.92 306.09,90.39 306.19,89.86 306.29,89.33 306.39,88.80 306.49,88.28 306.59,87.75 306.69,87.23 306.79,86.71 306.89,86.19 306.99,85.67 307.10,85.15 307.20,84.64 307.30,84.12 307.41,83.61 307.51,83.10 307.62,82.59 307.72,82.08 307.83,81.57 307.93,81.06 308.04,80.56 308.15,80.05 308.26,79.55 308.37,79.05 308.47,78.55 308.58,78.05 308.69,77.56 308.80,77.06 308.91,76.57 309.02,76.08 309.14,75.59 309.25,75.10 309.36,74.61 309.47,74.12 309.59,73.64 309.70,73.16 309.82,72.68 309.93,72.20 310.05,71.72 310.16,71.24 310.28,70.77 310.40,70.29 310.51,69.82 310.63,69.35 310.75,68.88 310.87,68.42 310.99,67.95 311.11,67.49 311.23,67.03 311.35,66.57 311.47,66.11 311.59,65.65 311.71,65.19 311.83,64.74 311.96,64.29 312.08,63.84 312.20,63.39 312.33,62.94 312.45,62.50 312.58,62.06 312.71,61.61 312.83,61.17 312.96,60.74 313.09,60.30 313.21,59.87 313.34,59.43 313.47,59.00 313.60,58.57 313.73,58.15 313.86,57.72 313.99,57.30 314.12,56.88 314.25,56.46 314.39,56.04 314.52,55.62 314.65,55.21 314.79,54.79 314.92,54.38 315.05,53.97 315.19,53.57 315.33,53.16 315.46,52.76 315.60,52.36 315.74,51.96 315.87,51.56 316.01,51.17 316.15,50.77 316.29,50.38 316.43,49.99 316.57,49.60 316.71,49.22 316.85,48.83 316.99,48.45 317.13,48.07 317.28,47.69 317.42,47.32 317.56,46.94 317.71,46.57 317.85,46.20 318.00,45.84 318.14,45.47 318.29,45.11 318.43,44.74 318.58,44.38 318.73,44.03 318.88,43.67 319.02,43.32 319.17,42.97 319.32,42.62 319.47,42.27 319.62,41.92 319.77,41.58 319.92,41.24 320.08,40.90 320.23,40.57 320.38,40.23 320.53,39.90 320.69,39.57 320.84,39.24 321.00,38.91 321.15,38.59 321.31,38.27 321.47,37.95 321.62,37.63 321.78,37.32 321.94,37.00 322.10,36.69 322.25,36.38 322.41,36.08 322.57,35.77 322.73,35.47 322.90,35.17 323.06,34.88 323.22,34.58 323.38,34.29 323.54,34.00 323.71,33.71 323.87,33.42 324.04,33.14 324.20,32.86 324.37,32.58 324.53,32.30 324.70,32.02 324.86,31.75 325.03,31.48 325.20,31.21" fill="none" stroke="#363636" stroke-width="1.5" stroke-linejoin="round" stroke-linecap="butt" />
<polyline points="294.70,221.30 294.70,221.29 294.70,221.26 294.70,221.21 294.70,221.16 294.70,221.09 294.71,221.02 294.71,220.93 294.71,220.84 294.71,220.74 294.72,220.63 294.72,220.51 294.73,220.39 294.73,220.26 294.74,220.12 294.75,219.97 294.75,219.82 294.76,219.66 294.77,219.49 294.78,219.32 294.79,219.14 294.80,218.96 294.81,218.77 294.82,218.57 294.83,218.37 294.84,218.16 294.85,217.95 294.87,217.73 294.88,217.51 294.90,217.28 294.91,217.05 294.93,216.81 294.94,216.57 294.96,216.32 294.98,216.07 295.00,215.81 295.01,215.55 295.03,215.28 295.05,215.01 295.07,214.74 295.10,214.46 295.12,214.18 295.14,213.89 295.16,213.60 295.19,213.30 295.21,213.00 295.24,212.70 295.26,212.39 295.29,212.08 295.32,211.77 295.35,211.45 295.38,211.13 295.41,210.80 295.44,210.48 295.47,210.15 295.50,209.81 295.53,209.47 295.56,209.13 295.60,208.79 295.63,208.44 295.67,208.09 295.70,207.74 295.74,207.38 295.78,207.03 295.81,206.67 295.85,206.30 295.89,205.94 295.93,205.57 295.97,205.20 296.01,204.82 296.06,204.45 296.10,204.07 296.14,203.69 296.19,203.30 296.23,202.92 296.28,202.53 296.32,202.14 296.37,201.75 296.42,201.36 296.47,200.96 296.52,200.57 296.57,200.17 296.62,199.77 296.67,199.37 296.73,198.96 296.78,198.56 296.83,198.15 296.89,197.74 296.94,197.33 297.00,196.92 297.06,196.51 297.12,196.09 297.17,195.68 297.23,195.26 297.29,194.84 297.35,194.42 297.42,194.00 297.48,193.58 297.54,193.16 297.61,192.74 297.67,192.31 297.74,191.89 297.80,191.46 297.87,191.03 297.94,190.61 298.01,190.18 298.08,189.75 298.15,189.32 298.22,188.89 298.29,188.46 298.37,188.03 298.44,187.60 298.51,187.16 298.59,186.73 298.66,186.30 298.74,185.87 298.82,185.43 298.90,185.00 298.98,184.56 299.06,184.13 299.14,183.70 299.22,183.26 299.30,182.83 299.39,182.39 299.47,181.96 299.56,181.52 299.64,181.09 299.73,180.65 299.82,180.22 299.90,179.79 299.99,179.35 300.08,178.92 300.17,178.48 300.27,178.05 300.36,177.62 300.45,177.19 300.55,176.75 300.64,176.32 300.74,175.89 300.83,175.46 300.93,175.03 301.03,174.60 301.13,174.17 301.23,173.74 301.33,173.32 301.43,172.89 301.53,172.46 301.64,172.04 301.74,171.61 301.85,171.19 301.95,170.76 302.06,170.34 302.17,169.92 302.27,169.50 302.38,169.08 302.49,168.66 302.61,168.24 302.72,167.82 302.83,167.41 302.94,166.99 303.06,166.58 303.17,166.17 303.29,165.75 303.41,165.34 303.52,164.93 303.64,164.53 303.76,164.12 303.88,163.71 304.01,163.31 304.13,162.90 304.25,162.50 304.37,162.10 304.50,161.70 304.63,161.30 304.75,160.90 304.88,160.51 305.01,160.11 305.14,159.72 305.27,159.33 305.40,158.94 305.53,158.55 305.66,158.16 305.80,157.78 305.93,157.39 306.07,157.01 306.20,156.63 306.34,156.25 306.48,155.87 306.62,155.50 306.76,155.12 306.90,154.75 307.04,154.38 307.18,154.01 307.33,153.64 307.47,153.27 307.62,152.91 307.76,152.54 307.91,152.18 308.06,151.82 308.21,151.46 308.36,151.11 308.51,150.75 308.66,150.40 308.81,150.05 308.96,149.70 309.12,149.35 309.27,149.01 309.43,148.66 309.59,148.32 309.74,147.98 309.90,147.64 310.06,147.31 310.22,146.97 310.38,146.64 310.55,146.31 310.71,145.98 310.87,145.65 311.04,145.33 311.21,145.01 311.37,144.68 311.54,144.36 311.71,144.05 311.88,143.73 312.05,143.42 312.22,143.11 312.39,142.80 312.57,142.49 312.74,142.18 312.92,141.88 313.09,141.58 313.27,141.28 313.45,140.98 313.63,140.69 313.81,140.39 313.99,140.10 314.17,139.81 314.35,139.52 314.54,139.24 314.72,138.96 314.91,138.67 315.09,138.39 315.28,138.12 315.47,137.84 315.66,137.57 315.85,137.30 316.04,137.03 316.23,136.76 316.43,136.50 316.62,136.23 316.81,135.97 317.01,135.71 317.21,135.46 317.41,135.20 317.60,134.95 317.80,134.70 318.00,134.45 318.21,134.20 318.41,133.96 318.61,133.71 318.82,133.47 319.02,133.24 319.23,133.00 319.43,132.77 319.64,132.53 319.85,132.30 320.06,132.07 320.27,131.85 320.49,131.62 320.70,131.40 320.91,131.18 321.13,130.96 321.34,130.75 321.56,130.53 321.78,130.32 322.00,130.11 322.22,129.91 322.44,129.70 322.66,129.50 322.88,129.29 323.10,129.09 323.33,128.90 323.55,128.70 323.78,128.51 324.01,128.32 324.24,128.13 324.46,127.94 324.70,127.75 324.93,127.57 325.16,127.39 325.39,127.21 325.63,127.03 325.86,126.86 326.10,126.68 326.33,126.51 326.57,126.34 326.81,126.17 327.05,126.01 327.29,125.84 327.53,125.68 327.78,125.52 328.02,125.36 328.27,125.21 328.51,125.05 328.76,124.90 329.01,124.75 329.25,124.60 329.50,124.45 329.75,124.31 330.01,124.17 330.26,124.03 330.51,123.89 330.77,123.75 331.02,123.61 331.28,123.48 331.54,123.35 331.80,123.22 332.06,123.09 332.32,122.97 332.58,122.84 332.84,122.72 333.10,122.60 333.37,122.48 333.63,122.36 333.90,122.25 334.17,122.13 334.44,122.02 334.71,121.91 334.98,121.81 335.25,121.70 335.52,121.59 335.79,121.49 336.07,121.39 336.34,121.29 336.62,121.19 336.90,121.10 337.18,121.00 337.46,120.91 337.74,120.82 338.02,120.73 338.30,120.65 338.58,120.56 338.87,120.48 339.15,120.39 339.44,120.31 339.73,120.23 340.02,120.16 340.30,120.08 340.60,120.01 340.89,119.94 341.18,119.87 341.47,119.80 341.77,119.73 342.06,119.66 342.36,119.60 342.66,119.54 342.96,119.47 343.26,119.42 343.56,119.36 343.86,119.30 344.16,119.25 344.46,119.19 344.77,119.14 345.07,119.09 345.38,119.04 345.69,118.99 346.00,118.95 346.31,118.90 346.62,118.86 346.93,118.82 347.24,118.78 347.56,118.74 347.87,118.70 348.19,118.67 348.50,118.64 348.82,118.60 349.14,118.57 349.46,118.54 349.78,118.51 350.10,118.49 350.43,118.46 350.75,118.44 351.07,118.41 351.40,118.39 351.73,118.37 352.06,118.35 352.38,118.34 352.71,118.32 353.05,118.31 353.38,118.29 353.71,118.28 354.05,118.27 354.38,118.26 354.72,118.25 355.05,118.25 355.39,118.24 355.73,118.24 356.07,118.23 356.41,118.23 356.76,118.23 357.10,118.23" fill="none" stroke="#ea3a44" stroke-width="1.5" stroke-linejoin="round" stroke-linecap="butt" />
<polyline points="294.70,221.30 294.70,221.30 294.70,221.29 294.70,221.27 294.70,221.25 294.71,221.22 294.71,221.19 294.71,221.15 294.72,221.10 294.72,221.05 294.73,221.00 294.74,220.93 294.75,220.87 294.76,220.79 294.77,220.72 294.78,220.63 294.79,220.54 294.80,220.45 294.81,220.35 294.83,220.24 294.84,220.13 294.86,220.02 294.88,219.90 294.90,219.77 294.91,219.64 294.94,219.51 294.96,219.37 294.98,219.22 295.00,219.07 295.03,218.92 295.05,218.76 295.08,218.60 295.10,218.43 295.13,218.25 295.16,218.08 295.19,217.89 295.22,217.71 295.26,217.52 295.29,217.32 295.33,217.12 295.36,216.92 295.40,216.71 295.44,216.50 295.48,216.28 295.52,216.06 295.56,215.84 295.60,215.61 295.64,215.38 295.69,215.14 295.73,214.91 295.78,214.66 295.83,214.42 295.88,214.17 295.93,213.91 295.98,213.66 296.03,213.40 296.09,213.14 296.14,212.87 296.20,212.60 296.25,212.33 296.31,212.05 296.37,211.77 296.43,211.49 296.50,211.21 296.56,210.92 296.62,210.63 296.69,210.34 296.76,210.05 296.82,209.75 296.89,209.45 296.96,209.15 297.04,208.85 297.11,208.54 297.18,208.23 297.26,207.92 297.34,207.61 297.41,207.30 297.49,206.98 297.57,206.66 297.65,206.34 297.74,206.02 297.82,205.70 297.91,205.38 297.99,205.05 298.08,204.72 298.17,204.39 298.26,204.07 298.35,203.73 298.45,203.40 298.54,203.07 298.64,202.74 298.73,202.40 298.83,202.06 298.93,201.73 299.03,201.39 299.13,201.05 299.24,200.71 299.34,200.37 299.45,200.03 299.55,199.69 299.66,199.35 299.77,199.01 299.88,198.67 300.00,198.33 300.11,197.99 300.23,197.65 300.34,197.31 300.46,196.96 300.58,196.62 300.70,196.28 300.82,195.94 300.94,195.60 301.07,195.26 301.19,194.92 301.32,194.58 301.45,194.24 301.58,193.90 301.71,193.56 301.84,193.22 301.98,192.89 302.11,192.55 302.25,192.21 302.39,191.88 302.53,191.55 302.67,191.21 302.81,190.88 302.95,190.55 303.10,190.22 303.24,189.89 303.39,189.56 303.54,189.24 303.69,188.91 303.84,188.59 303.99,188.26 304.15,187.94 304.30,187.62 304.46,187.30 304.62,186.98 304.78,186.67 304.94,186.35 305.10,186.04 305.27,185.73 305.43,185.42 305.60,185.11 305.77,184.80 305.94,184.50 306.11,184.20 306.28,183.89 306.46,183.59 306.63,183.30 306.81,183.00 306.99,182.71 307.17,182.41 307.35,182.12 307.53,181.83 307.72,181.55 307.90,181.26 308.09,180.98 308.28,180.70 308.47,180.42 308.66,180.14 308.85,179.87 309.04,179.60 309.24,179.32 309.44,179.06 309.63,178.79 309.83,178.53 310.04,178.26 310.24,178.00 310.44,177.75 310.65,177.49 310.86,177.24 311.06,176.98 311.27,176.74 311.49,176.49 311.70,176.24 311.91,176.00 312.13,175.76 312.35,175.52 312.57,175.29 312.79,175.05 313.01,174.82 313.23,174.59 313.46,174.37 313.68,174.14 313.91,173.92 314.14,173.70 314.37,173.48 314.60,173.27 314.83,173.05 315.07,172.84 315.31,172.63 315.54,172.43 315.78,172.22 316.03,172.02 316.27,171.82 316.51,171.62 316.76,171.43 317.00,171.23 317.25,171.04 317.50,170.85 317.75,170.67 318.01,170.48 318.26,170.30 318.52,170.12 318.78,169.94 319.04,169.77 319.30,169.59 319.56,169.42 319.82,169.25 320.09,169.09 320.35,168.92 320.62,168.76 320.89,168.60 321.16,168.44 321.44,168.28 321.71,168.13 321.99,167.97 322.26,167.82 322.54,167.68 322.82,167.53 323.10,167.38 323.39,167.24 323.67,167.10 323.96,166.96 324.25,166.83 324.54,166.69 324.83,166.56 325.12,166.43 325.42,166.30 325.71,166.17 326.01,166.05 326.31,165.92 326.61,165.80 326.91,165.68 327.21,165.56 327.52,165.45 327.83,165.33 328.13,165.22 328.44,165.11 328.76,165.00 329.07,164.89 329.38,164.79 329.70,164.68 330.02,164.58 330.34,164.48 330.66,164.38 330.98,164.28 331.30,164.18 331.63,164.09 331.96,164.00 332.28,163.90 332.61,163.81 332.95,163.73 333.28,163.64 333.61,163.55 333.95,163.47 334.29,163.39 334.63,163.30 334.97,163.22 335.31,163.14 335.66,163.07 336.00,162.99 336.35,162.92 336.70,162.84 337.05,162.77 337.40,162.70 337.76,162.63 338.11,162.56 338.47,162.50 338.83,162.43 339.19,162.36 339.55,162.30 339.92,162.24 340.28,162.18 340.65,162.12 341.02,162.06 341.39,162.00 341.76,161.94 342.13,161.89 342.51,161.83 342.88,161.78 343.26,161.73 343.64,161.68 344.02,161.62 344.40,161.58 344.79,161.53 345.17,161.48 345.56,161.43 345.95,161.39 346.34,161.34 346.73,161.30 347.13,161.25 347.52,161.21 347.92,161.17 348.32,161.13 348.72,161.09 349.12,161.05 349.53,161.01 349.93,160.97 350.34,160.94 350.75,160.90 351.16,160.87 351.57,160.83 351.99,160.80 352.40,160.76 352.82,160.73 353.24,160.70 353.66,160.67 354.08,160.64 354.50,160.61 354.93,160.58 355.36,160.55 355.78,160.52 356.21,160.50 356.65,160.47 357.08,160.44 357.51,160.42 357.95,160.39 358.39,160.37 358.83,160.34 359.27,160.32 359.71,160.30 360.16,160.27 360.61,160.25 361.05,160.23 361.50,160.21 361.96,160.19 362.41,160.17 362.86,160.15 363.32,160.13 363.78,160.11 364.24,160.09 364.70,160.08 365.16,160.06 365.63,160.04 366.10,160.02 366.56,160.01 367.03,159.99 367.51,159.98 367.98,159.96 368.45,159.95 368.93,159.93 369.41,159.92 369.89,159.90 370.37,159.89 370.85,159.88 371.34,159.86 371.83,159.85 372.31,159.84 372.80,159.83 373.30,159.81 373.79,159.80 374.29,159.79 374.78,159.78 375.28,159.77 375.78,159.76 376.28,159.75 376.79,159.74 377.29,159.73 377.80,159.72 378.31,159.71 378.82,159.70 379.33,159.69 379.84,159.68 380.36,159.67 380.88,159.67 381.39,159.66 381.92,159.65 382.44,159.64 382.96,159.63 383.49,159.63 384.01,159.62 384.54,159.61 385.07,159.61 385.61,159.60 386.14,159.59 386.68,159.59 387.21,159.58 387.75,159.57 388.29,159.57 388.84,159.56 389.38,159.56 389.93,159.55 390.48,159.55 391.03,159.54 391.58,159.53 392.13,159.53 392.68,159.52 393.24,159.52 393.80,159.52 394.36,159.51 394.92,159.51 395.48,159.50 396.05,159.50 396.62,159.49 397.18,159.49 397.75,159.48 398.33,159.48 398.90,159.48" fill="none" stroke="#2564d8" stroke-width="1.5" stroke-linejoin="round" stroke-linecap="butt" />
<polyline points="294.70,221.30 294.70,221.30 294.70,221.29 294.70,221.28 294.71,221.27 294.71,221.25 294.72,221.23 294.73,221.20 294.74,221.17 294.75,221.13 294.76,221.09 294.78,221.05 294.79,221.00 294.81,220.95 294.83,220.89 294.85,220.82 294.88,220.76 294.90,220.69 294.93,220.61 294.96,220.53 294.99,220.44 295.02,220.35 295.06,220.26 295.09,220.16 295.13,220.05 295.17,219.95 295.21,219.83 295.26,219.72 295.31,219.60 295.35,219.47 295.40,219.34 295.46,219.21 295.51,219.07 295.57,218.93 295.63,218.79 295.69,218.64 295.75,218.49 295.82,218.33 295.89,218.17 295.95,218.01 296.03,217.84 296.10,217.67 296.18,217.50 296.26,217.32 296.34,217.14 296.42,216.95 296.50,216.77 296.59,216.58 296.68,216.39 296.77,216.19 296.87,215.99 296.96,215.79 297.06,215.59 297.16,215.38 297.27,215.17 297.37,214.96 297.48,214.75 297.59,214.54 297.70,214.32 297.82,214.10 297.94,213.88 298.06,213.66 298.18,213.43 298.30,213.21 298.43,212.98 298.56,212.75 298.69,212.52 298.83,212.29 298.96,212.06 299.10,211.82 299.24,211.59 299.39,211.35 299.53,211.12 299.68,210.88 299.83,210.65 299.99,210.41 300.15,210.17 300.30,209.93 300.47,209.69 300.63,209.45 300.80,209.22 300.96,208.98 301.14,208.74 301.31,208.50 301.49,208.26 301.67,208.03 301.85,207.79 302.03,207.55 302.22,207.32 302.41,207.08 302.60,206.85 302.79,206.61 302.99,206.38 303.19,206.15 303.39,205.92 303.60,205.69 303.80,205.46 304.01,205.23 304.23,205.01 304.44,204.78 304.66,204.56 304.88,204.34 305.10,204.12 305.33,203.90 305.56,203.68 305.79,203.47 306.02,203.25 306.26,203.04 306.50,202.83 306.74,202.62 306.98,202.42 307.23,202.21 307.48,202.01 307.73,201.81 307.99,201.61 308.24,201.42 308.50,201.22 308.77,201.03 309.03,200.84 309.30,200.66 309.57,200.47 309.85,200.29 310.12,200.11 310.40,199.93 310.69,199.75 310.97,199.58 311.26,199.41 311.55,199.24 311.84,199.07 312.14,198.91 312.44,198.75 312.74,198.59 313.04,198.43 313.35,198.27 313.66,198.12 313.97,197.97 314.29,197.82 314.61,197.68 314.93,197.54 315.25,197.40 315.58,197.26 315.91,197.12 316.24,196.99 316.58,196.86 316.91,196.73 317.25,196.60 317.60,196.48 317.94,196.36 318.29,196.24 318.65,196.12 319.00,196.01 319.36,195.89 319.72,195.78 320.08,195.68 320.45,195.57 320.82,195.47 321.19,195.36 321.57,195.26 321.94,195.17 322.32,195.07 322.71,194.98 323.09,194.89 323.48,194.80 323.88,194.71 324.27,194.63 324.67,194.54 325.07,194.46 325.47,194.38 325.88,194.30 326.29,194.23 326.70,194.15 327.12,194.08 327.54,194.01 327.96,193.94 328.38,193.88 328.81,193.81 329.24,193.75 329.67,193.69 330.11,193.63 330.55,193.57 330.99,193.51 331.44,193.45 331.89,193.40 332.34,193.35 332.79,193.30 333.25,193.25 333.71,193.20 334.17,193.15 334.64,193.10 335.10,193.06 335.58,193.02 336.05,192.97 336.53,192.93 337.01,192.89 337.49,192.85 337.98,192.82 338.47,192.78 338.96,192.74 339.46,192.71 339.96,192.68 340.46,192.65 340.96,192.61 341.47,192.58 341.98,192.55 342.50,192.53 343.01,192.50 343.53,192.47 344.06,192.45 344.58,192.42 345.11,192.40 345.64,192.37 346.18,192.35 346.72,192.33 347.26,192.31 347.80,192.29 348.35,192.27 348.90,192.25 349.46,192.23 350.01,192.21 350.57,192.20 351.13,192.18 351.70,192.16 352.27,192.15 352.84,192.13 353.42,192.12 353.99,192.11 354.58,192.09 355.16,192.08 355.75,192.07 356.34,192.06 356.93,192.04 357.53,192.03 358.13,192.02 358.73,192.01 359.34,192.00 359.95,191.99 360.56,191.98 361.18,191.97 361.79,191.97 362.42,191.96 363.04,191.95 363.67,191.94 364.30,191.93 364.93,191.93 365.57,191.92 366.21,191.91 366.86,191.91 367.50,191.90 368.15,191.90 368.81,191.89 369.46,191.89 370.12,191.88 370.78,191.88 371.45,191.87 372.12,191.87 372.79,191.86 373.47,191.86 374.14,191.85 374.83,191.85 375.51,191.85 376.20,191.84 376.89,191.84 377.59,191.84 378.28,191.83 378.98,191.83 379.69,191.83 380.39,191.83 381.10,191.82 381.82,191.82 382.54,191.82 383.26,191.82 383.98,191.81 384.70,191.81 385.43,191.81 386.17,191.81 386.90,191.80 387.64,191.80 388.38,191.80 389.13,191.80 389.88,191.80 390.63,191.80 391.39,191.79 392.15,191.79 392.91,191.79 393.67,191.79 394.44,191.79 395.21,191.79 395.99,191.79 396.77,191.79 397.55,191.78 398.33,191.78 399.12,191.78 399.91,191.78 400.70,191.78 401.50,191.78 402.30,191.78 403.11,191.78 403.91,191.78 404.72,191.78 405.54,191.78 406.36,191.78 407.18,191.77 408.00,191.77 408.83,191.77 409.66,191.77 410.49,191.77 411.33,191.77 412.17,191.77 413.01,191.77 413.86,191.77 414.71,191.77 415.56,191.77 416.42,191.77 417.28,191.77 418.14,191.77 419.01,191.77 419.88,191.77 420.75,191.77 421.63,191.76 422.51,191.76 423.39,191.76 424.28,191.76 425.17,191.76 426.06,191.76 426.96,191.76 427.85,191.76 428.76,191.76 429.66,191.76 430.57,191.76 431.49,191.76 432.40,191.76 433.32,191.76 434.25,191.76 435.17,191.76 436.10,191.76 437.04,191.76 437.97,191.76 438.91,191.76 439.85,191.76 440.80,191.76 441.75,191.76 442.70,191.76 443.66,191.75 444.62,191.75 445.58,191.75 446.55,191.75 447.52,191.75 448.49,191.75 449.47,191.75 450.45,191.75 451.43,191.75 452.42,191.75 453.41,191.75 454.40,191.75 455.40,191.75 456.40,191.75 457.41,191.75 458.41,191.75 459.42,191.75 460.44,191.75 461.46,191.75 462.48,191.75 463.50,191.75 464.53,191.75 465.56,191.75 466.59,191.75 467.63,191.75 468.67,191.75 469.72,191.75 470.76,191.74 471.82,191.74 472.87,191.74 473.93,191.74 474.99,191.74 476.06,191.74 477.12,191.74 478.20,191.74 479.27,191.74 480.35,191.74 481.43,191.74 482.52,191.74 483.61,191.74 484.70,191.74 485.80,191.74 486.90,191.74 488.00,191.74 489.10,191.74 490.21,191.74 491.33,191.74 492.44,191.74 493.56,191.74 494.69,191.74 495.81,191.74 496.94,191.74 498.08,191.74 499.22,191.73 500.36,191.73 501.50,191.73 502.65,191.73 503.80,191.73" fill="none" stroke="#26a05c" stroke-width="1.5" stroke-linejoin="round" stroke-linecap="butt" />
<text transform="translate(71.6,29.4) scale(1,1.1)" font-size="8.4" fill="#444" text-anchor="middle" stroke="#444" stroke-width="0.14">52.6</text>
<text transform="translate(101.7,78.6) scale(1,1.1)" font-size="8.4" fill="#ec5560" text-anchor="middle" stroke="#ec5560" stroke-width="0.14">33.5</text>
<text transform="translate(159.1,114.7) scale(1,1.1)" font-size="8.4" fill="#2f62d8" text-anchor="middle" stroke="#2f62d8" stroke-width="0.14">24.6</text>
<text transform="translate(263.8,132.8) scale(1,1.1)" font-size="8.4" fill="#3aa874" text-anchor="middle" stroke="#3aa874" stroke-width="0.14">18.0</text>
<text transform="translate(315.5,29.6) scale(1,1.1)" font-size="8.4" fill="#444" text-anchor="middle" stroke="#444" stroke-width="0.14">61.9</text>
<text transform="translate(363.1,129.0) scale(1,1.1)" font-size="8.4" fill="#ec5560" text-anchor="middle" stroke="#ec5560" stroke-width="0.14">34.0</text>
<text transform="translate(409.0,160.8) scale(1,1.1)" font-size="8.4" fill="#2f62d8" text-anchor="middle" stroke="#2f62d8" stroke-width="0.14">20.7</text>
<text transform="translate(500.9,185.6) scale(1,1.1)" font-size="8.4" fill="#30a070" text-anchor="middle" stroke="#30a070" stroke-width="0.14">10.3</text>
<line x1="325.2" x2="345" y1="31.3" y2="31.3" stroke="#333" stroke-width="1.2" stroke-dasharray="4.4,4.4"/>
<line x1="338.9" x2="338.9" y1="32.3" y2="103" stroke="#333" stroke-width="1.2" stroke-dasharray="3,3.2"/>
<path d="M336.9,102.6 L340.9,102.6 L338.9,107.6 Z" fill="#222"/>
<line x1="338.9" x2="338.9" y1="127.3" y2="191.5" stroke="#5ec08c" stroke-width="1.2" stroke-dasharray="2.8,2.9"/>
<path d="M337.09999999999997,126.4 L340.7,126.4 L338.9,121.8 Z" fill="#2ea25e"/>
<text transform="translate(322.3,117.3) scale(1,1.1)" font-size="9.6" font-weight="bold" fill="#2a9e5e" stroke="#2a9e5e" stroke-width="0.12">51.6<tspan font-weight="normal" font-size="9">℃</tspan></text>
<line x1="231.3" x2="248.5" y1="182.20" y2="182.20" stroke="#363636" stroke-width="1.5"/>
<text transform="translate(248.4,184.90) scale(1,1.1)" font-size="7.4" fill="#2a2a2a" stroke="#2a2a2a" stroke-width="0.14">1.5min</text>
<line x1="231.3" x2="248.5" y1="191.15" y2="191.15" stroke="#ea3a44" stroke-width="1.5"/>
<text transform="translate(248.4,193.85) scale(1,1.1)" font-size="7.4" fill="#2a2a2a" stroke="#2a2a2a" stroke-width="0.14">3min</text>
<line x1="231.3" x2="248.5" y1="200.10" y2="200.10" stroke="#2564d8" stroke-width="1.5"/>
<text transform="translate(248.4,202.80) scale(1,1.1)" font-size="7.4" fill="#2a2a2a" stroke="#2a2a2a" stroke-width="0.14">5min</text>
<line x1="231.3" x2="248.5" y1="209.05" y2="209.05" stroke="#26a05c" stroke-width="1.5"/>
<text transform="translate(248.4,211.75) scale(1,1.1)" font-size="7.4" fill="#2a2a2a" stroke="#2a2a2a" stroke-width="0.14">10min</text>
<line x1="33.3" x2="520.8" y1="6.3" y2="6.3" stroke="#111" stroke-width="1.2"/>
<line x1="33.3" x2="520.8" y1="239.35" y2="239.35" stroke="#111" stroke-width="1.25"/>
<line x1="33.3" x2="33.3" y1="5.6" y2="240.04999999999998" stroke="#111" stroke-width="1.4"/>
<line x1="277.0" x2="277.0" y1="5.6" y2="240.04999999999998" stroke="#505050" stroke-width="1.9"/>
<line x1="520.8" x2="520.8" y1="5.6" y2="240.04999999999998" stroke="#f06464" stroke-width="1.4"/>
<path d="M50.50,239.35 v-3.3 M50.50,6.3 v3.3 M67.91,239.35 v-1.7 M67.91,6.3 v1.7 M85.33,239.35 v-3.3 M85.33,6.3 v3.3 M102.75,239.35 v-1.7 M102.75,6.3 v1.7 M120.16,239.35 v-3.3 M120.16,6.3 v3.3 M137.57,239.35 v-1.7 M137.57,6.3 v1.7 M154.99,239.35 v-3.3 M154.99,6.3 v3.3 M172.41,239.35 v-1.7 M172.41,6.3 v1.7 M189.82,239.35 v-3.3 M189.82,6.3 v3.3 M207.23,239.35 v-1.7 M207.23,6.3 v1.7 M224.65,239.35 v-3.3 M224.65,6.3 v3.3 M242.06,239.35 v-1.7 M242.06,6.3 v1.7 M259.48,239.35 v-3.3 M259.48,6.3 v3.3 M276.89,239.35 v-1.7 M276.89,6.3 v1.7 M294.40,239.35 v-3.3 M294.40,6.3 v3.3 M311.81,239.35 v-1.7 M311.81,6.3 v1.7 M329.23,239.35 v-3.3 M329.23,6.3 v3.3 M346.64,239.35 v-1.7 M346.64,6.3 v1.7 M364.06,239.35 v-3.3 M364.06,6.3 v3.3 M381.47,239.35 v-1.7 M381.47,6.3 v1.7 M398.89,239.35 v-3.3 M398.89,6.3 v3.3 M416.30,239.35 v-1.7 M416.30,6.3 v1.7 M433.72,239.35 v-3.3 M433.72,6.3 v3.3 M451.13,239.35 v-1.7 M451.13,6.3 v1.7 M468.55,239.35 v-3.3 M468.55,6.3 v3.3 M485.96,239.35 v-1.7 M485.96,6.3 v1.7 M503.38,239.35 v-3.3 M503.38,6.3 v3.3 M520.79,239.35 v-1.7 M520.79,6.3 v1.7 M33.3,238.93 h1.7 M33.3,225.22 h3.3 M33.3,211.52 h1.7 M33.3,197.81 h3.3 M33.3,184.11 h1.7 M33.3,170.40 h3.3 M33.3,156.69 h1.7 M33.3,142.99 h3.3 M33.3,129.28 h1.7 M33.3,115.58 h3.3 M33.3,101.88 h1.7 M33.3,88.17 h3.3 M33.3,74.47 h1.7 M33.3,60.76 h3.3 M33.3,47.06 h1.7 M33.3,33.35 h3.3 M33.3,19.65 h1.7 M33.3,5.94 h3.3 M277.0,239.25 h1.7 M277.0,223.70 h3.3 M277.0,208.15 h1.7 M277.0,192.60 h3.3 M277.0,177.05 h1.7 M277.0,161.50 h3.3 M277.0,145.95 h1.7 M277.0,130.40 h3.3 M277.0,114.85 h1.7 M277.0,99.30 h3.3 M277.0,83.75 h1.7 M277.0,68.20 h3.3 M277.0,52.65 h1.7 M277.0,37.10 h3.3 M277.0,21.55 h1.7 M277.0,6.00 h3.3" stroke="#111" stroke-width="1.1" fill="none"/>
<path d="M520.8,239.25 h-1.7 M520.8,223.70 h-3.3 M520.8,208.15 h-1.7 M520.8,192.60 h-3.3 M520.8,177.05 h-1.7 M520.8,161.50 h-3.3 M520.8,145.95 h-1.7 M520.8,130.40 h-3.3 M520.8,114.85 h-1.7 M520.8,99.30 h-3.3 M520.8,83.75 h-1.7 M520.8,68.20 h-3.3 M520.8,52.65 h-1.7 M520.8,37.10 h-3.3 M520.8,21.55 h-1.7 M520.8,6.00 h-3.3" stroke="#f06464" stroke-width="1.1" fill="none"/>
<line x1="517.5" x2="520.8" y1="6.3" y2="6.3" stroke="#f06464" stroke-width="1.4"/>
<text transform="translate(28.9,227.82) scale(1,1.1)" font-size="8.2" fill="#2a2a2a" text-anchor="end" stroke="#2a2a2a" stroke-width="0.14">−20</text>
<text transform="translate(28.9,200.41) scale(1,1.1)" font-size="8.2" fill="#2a2a2a" text-anchor="end" stroke="#2a2a2a" stroke-width="0.14">−10</text>
<text transform="translate(28.9,173.00) scale(1,1.1)" font-size="8.2" fill="#2a2a2a" text-anchor="end" stroke="#2a2a2a" stroke-width="0.14">0</text>
<text transform="translate(28.9,145.59) scale(1,1.1)" font-size="8.2" fill="#2a2a2a" text-anchor="end" stroke="#2a2a2a" stroke-width="0.14">10</text>
<text transform="translate(28.9,118.18) scale(1,1.1)" font-size="8.2" fill="#2a2a2a" text-anchor="end" stroke="#2a2a2a" stroke-width="0.14">20</text>
<text transform="translate(28.9,90.77) scale(1,1.1)" font-size="8.2" fill="#2a2a2a" text-anchor="end" stroke="#2a2a2a" stroke-width="0.14">30</text>
<text transform="translate(28.9,63.36) scale(1,1.1)" font-size="8.2" fill="#2a2a2a" text-anchor="end" stroke="#2a2a2a" stroke-width="0.14">40</text>
<text transform="translate(28.9,35.95) scale(1,1.1)" font-size="8.2" fill="#2a2a2a" text-anchor="end" stroke="#2a2a2a" stroke-width="0.14">50</text>
<text transform="translate(28.9,8.54) scale(1,1.1)" font-size="8.2" fill="#2a2a2a" text-anchor="end" stroke="#2a2a2a" stroke-width="0.14">60</text>
<text transform="translate(50.50,249.9) scale(1,1.1)" font-size="8.2" fill="#2a2a2a" text-anchor="middle" stroke="#2a2a2a" stroke-width="0.14">0</text>
<text transform="translate(85.33,249.9) scale(1,1.1)" font-size="8.2" fill="#2a2a2a" text-anchor="middle" stroke="#2a2a2a" stroke-width="0.14">100</text>
<text transform="translate(120.16,249.9) scale(1,1.1)" font-size="8.2" fill="#2a2a2a" text-anchor="middle" stroke="#2a2a2a" stroke-width="0.14">200</text>
<text transform="translate(154.99,249.9) scale(1,1.1)" font-size="8.2" fill="#2a2a2a" text-anchor="middle" stroke="#2a2a2a" stroke-width="0.14">300</text>
<text transform="translate(189.82,249.9) scale(1,1.1)" font-size="8.2" fill="#2a2a2a" text-anchor="middle" stroke="#2a2a2a" stroke-width="0.14">400</text>
<text transform="translate(224.65,249.9) scale(1,1.1)" font-size="8.2" fill="#2a2a2a" text-anchor="middle" stroke="#2a2a2a" stroke-width="0.14">500</text>
<text transform="translate(259.48,249.9) scale(1,1.1)" font-size="8.2" fill="#2a2a2a" text-anchor="middle" stroke="#2a2a2a" stroke-width="0.14">600</text>
<text transform="translate(294.40,249.9) scale(1,1.1)" font-size="8.2" fill="#2a2a2a" text-anchor="middle" stroke="#2a2a2a" stroke-width="0.14">0</text>
<text transform="translate(329.23,249.9) scale(1,1.1)" font-size="8.2" fill="#2a2a2a" text-anchor="middle" stroke="#2a2a2a" stroke-width="0.14">100</text>
<text transform="translate(364.06,249.9) scale(1,1.1)" font-size="8.2" fill="#2a2a2a" text-anchor="middle" stroke="#2a2a2a" stroke-width="0.14">200</text>
<text transform="translate(398.89,249.9) scale(1,1.1)" font-size="8.2" fill="#2a2a2a" text-anchor="middle" stroke="#2a2a2a" stroke-width="0.14">300</text>
<text transform="translate(433.72,249.9) scale(1,1.1)" font-size="8.2" fill="#2a2a2a" text-anchor="middle" stroke="#2a2a2a" stroke-width="0.14">400</text>
<text transform="translate(468.55,249.9) scale(1,1.1)" font-size="8.2" fill="#2a2a2a" text-anchor="middle" stroke="#2a2a2a" stroke-width="0.14">500</text>
<text transform="translate(503.38,249.9) scale(1,1.1)" font-size="8.2" fill="#2a2a2a" text-anchor="middle" stroke="#2a2a2a" stroke-width="0.14">600</text>
<text transform="translate(525.2,226.60) scale(1,1.1)" font-size="8.2" fill="#ec5560" stroke="#ec5560" stroke-width="0.14">0</text>
<text transform="translate(525.2,195.50) scale(1,1.1)" font-size="8.2" fill="#ec5560" stroke="#ec5560" stroke-width="0.14">10</text>
<text transform="translate(525.2,164.40) scale(1,1.1)" font-size="8.2" fill="#ec5560" stroke="#ec5560" stroke-width="0.14">20</text>
<text transform="translate(525.2,133.30) scale(1,1.1)" font-size="8.2" fill="#ec5560" stroke="#ec5560" stroke-width="0.14">30</text>
<text transform="translate(525.2,102.20) scale(1,1.1)" font-size="8.2" fill="#ec5560" stroke="#ec5560" stroke-width="0.14">40</text>
<text transform="translate(525.2,71.10) scale(1,1.1)" font-size="8.2" fill="#ec5560" stroke="#ec5560" stroke-width="0.14">50</text>
<text transform="translate(525.2,40.00) scale(1,1.1)" font-size="8.2" fill="#ec5560" stroke="#ec5560" stroke-width="0.14">60</text>
<text transform="translate(525.2,8.90) scale(1,1.1)" font-size="8.2" fill="#ec5560" stroke="#ec5560" stroke-width="0.14">70</text>
<text transform="translate(276.0,259.6) scale(1,1.1)" font-size="9.8" fill="#2a2a2a" text-anchor="middle" stroke="#2a2a2a" stroke-width="0.14">Time(s)</text>
<text transform="translate(12.6,117.0) rotate(-90)" font-size="9.6" fill="#2a2a2a" text-anchor="middle" stroke="#2a2a2a" stroke-width="0.14">T<tspan font-size="7.4" dy="2.2">max</tspan><tspan dy="-2.2">(℃)</tspan></text>
<text transform="translate(545.2,115.1) rotate(-90)" font-size="10" fill="#ec5560" text-anchor="middle" stroke="#ec5560" stroke-width="0.14">ΔT(℃)</text>
</svg>
</body></html>
